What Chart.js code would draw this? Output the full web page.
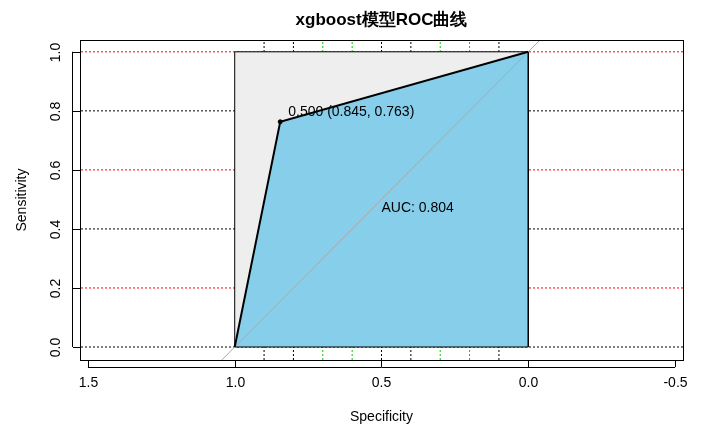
<!DOCTYPE html>
<html><head><meta charset="utf-8">
<script src="https://cdn.jsdelivr.net/npm/chart.js@4"></script>
<style>body{margin:0;background:#fff}#w{width:725px;height:438px}</style>
</head><body><div id="w"><canvas id="c"></canvas></div>
<script>
const specificity=[1.0,0.845,0.0];
const sensitivity=[0.0,0.763,1.0];
const thresholdLabel="0.500 (0.845, 0.763)";
const aucLabel="AUC: 0.804";
const xTicks=[1.5,1.0,0.5,0.0,-0.5];
const xTickLabels=["1.5","1.0","0.5","0.0","-0.5"];
const yTicks=[0.0,0.2,0.4,0.6,0.8,1.0];
const yTickLabels=["0.0","0.2","0.4","0.6","0.8","1.0"];
const hGridColors=["#000","#f00","#000","#f00","#000","#f00"];
const vGrid=[0.9,0.8,0.7,0.6,0.5,0.4,0.3,0.2,0.1];
const vGridColors=["#000","#000","#0c0","#0c0","#000","#000","#0c0","#0c0","#000"];
const XMIN=-0.527,XMAX=1.527,YMIN=-0.044,YMAX=1.04;
const F="'Liberation Sans',Arial,sans-serif";

const ds=[];
yTicks.forEach((y,i)=>ds.push({data:[{x:XMIN,y},{x:XMAX,y}],borderColor:hGridColors[i],borderWidth:1,borderDash:[2,2],pointRadius:0,order:10}));
vGrid.forEach((x,i)=>ds.push({data:[{x,y:YMIN},{x,y:YMAX}],borderColor:vGridColors[i],borderWidth:1,borderDash:[2,2],pointRadius:0,order:10}));
ds.push({data:[{x:0,y:1},{x:1,y:1}],backgroundColor:'#eeeeee',fill:'origin',borderWidth:0,pointRadius:0,order:8});
ds.push({data:specificity.map((x,i)=>({x,y:sensitivity[i]})).reverse(),backgroundColor:'#87ceeb',fill:'origin',borderWidth:0,pointRadius:0,order:7});
ds.push({data:[{x:1,y:0},{x:1,y:1},{x:0,y:1},{x:0,y:0},{x:1,y:0}],borderColor:'#000',borderWidth:1,pointRadius:0,fill:false,order:6});
ds.push({data:[{x:1.044,y:-0.044},{x:-0.044,y:1.044}],borderColor:'#aaaaaa',borderWidth:1,pointRadius:0,fill:false,order:5});
ds.push({data:specificity.map((x,i)=>({x,y:sensitivity[i]})),borderColor:'#000',borderWidth:2,pointRadius:0,fill:false,order:4});
ds.push({data:[{x:specificity[1],y:sensitivity[1]}],borderColor:'#000',backgroundColor:'#000',pointRadius:2,showLine:false,order:3});

const deco={id:'deco',afterDraw(ch){
 const c=ch.ctx,a=ch.chartArea,xs=ch.scales.x,ys=ch.scales.y;
 c.save();
 c.strokeStyle='#000';c.lineWidth=1;
 c.strokeRect(a.left+0.5,a.top+0.5,a.right-a.left,a.bottom-a.top);
 c.fillStyle='#000';c.font='14px '+F;
 c.textAlign='center';c.textBaseline='middle';
 xTicks.forEach((v,i)=>{const p=Math.round(xs.getPixelForValue(v))+0.5;
  c.beginPath();c.moveTo(p,a.bottom);c.lineTo(p,a.bottom+7);c.stroke();
  c.fillText(xTickLabels[i],p,a.bottom+23);});
 c.beginPath();c.moveTo(xs.getPixelForValue(1.5),a.bottom+7.5);c.lineTo(xs.getPixelForValue(-0.5),a.bottom+7.5);c.stroke();
 yTicks.forEach((v,i)=>{const p=Math.round(ys.getPixelForValue(v))+0.5;
  c.beginPath();c.moveTo(a.left,p);c.lineTo(a.left-7,p);c.stroke();
  c.save();c.translate(a.left-24,p);c.rotate(-Math.PI/2);c.fillText(yTickLabels[i],0,0);c.restore();});
 c.beginPath();c.moveTo(a.left-7.5,ys.getPixelForValue(0));c.lineTo(a.left-7.5,ys.getPixelForValue(1));c.stroke();
 c.fillText('Specificity',(a.left+a.right)/2,417);
 c.save();c.translate(22,(a.top+a.bottom)/2);c.rotate(-Math.PI/2);c.fillText('Sensitivity',0,0);c.restore();
 c.font='bold 17px '+F;c.fillText('xgboost模型ROC曲线',(a.left+a.right)/2,20);
 c.font='14px '+F;c.textAlign='left';
 c.fillText(thresholdLabel,xs.getPixelForValue(specificity[1])+8,ys.getPixelForValue(sensitivity[1])-10);
 c.fillText(aucLabel,xs.getPixelForValue(0.5),ys.getPixelForValue(0.47));
 c.restore();}};

new Chart(document.getElementById('c'),{type:'scatter',data:{datasets:ds},
 options:{responsive:true,maintainAspectRatio:false,animation:false,
  layout:{padding:{left:80,right:42,top:40,bottom:78}},
  plugins:{legend:{display:false},tooltip:{enabled:false}},
  elements:{line:{tension:0}},
  datasets:{scatter:{showLine:true}},
  scales:{x:{type:'linear',min:XMIN,max:XMAX,reverse:true,display:false},
          y:{type:'linear',min:YMIN,max:YMAX,display:false}}},
 plugins:[deco]});
</script></body></html>
